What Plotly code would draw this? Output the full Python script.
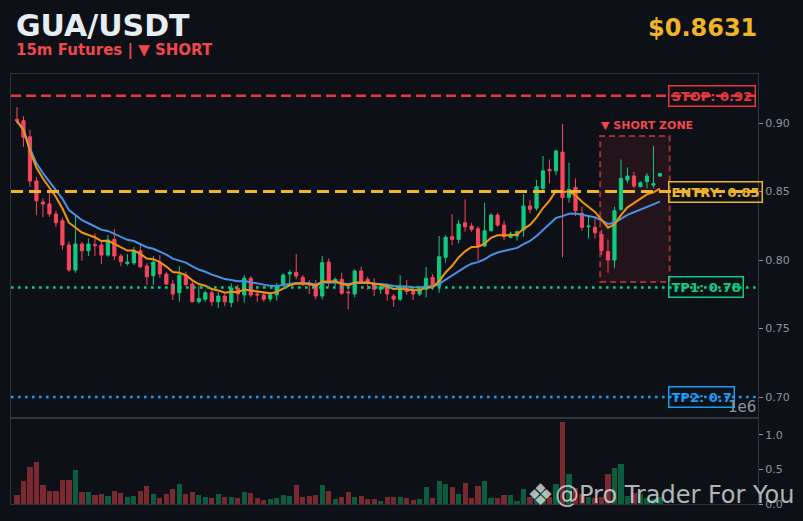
import pandas as pd
import plotly.graph_objects as go
from plotly.subplots import make_subplots

# 15m candles
opens = [0.9027, 0.9017, 0.8900, 0.8577, 0.8423, 0.8410, 0.8336, 0.8287, 0.8110, 0.7927,
         0.8117, 0.8068, 0.8112, 0.8110, 0.8036, 0.8151, 0.8029, 0.7975, 0.7978, 0.8068,
         0.7956, 0.7886, 0.7980, 0.7898, 0.7825, 0.7761, 0.7890, 0.7825, 0.7696, 0.7714,
         0.7761, 0.7696, 0.7737, 0.7689, 0.7794, 0.7745, 0.7867, 0.7752, 0.7745, 0.7716,
         0.7745, 0.7825, 0.7898, 0.7910, 0.7874, 0.7830, 0.7805, 0.7737, 0.7985, 0.7834,
         0.7859, 0.7766, 0.7752, 0.7920, 0.7859, 0.7830, 0.7786, 0.7805, 0.7737, 0.7714,
         0.7794, 0.7769, 0.7752, 0.7786, 0.7874, 0.7810, 0.8020, 0.8170, 0.8151, 0.8272,
         0.8248, 0.8229, 0.8102, 0.8214, 0.8328, 0.8255, 0.8166, 0.8175, 0.8219, 0.8394,
         0.8378, 0.8523, 0.8662, 0.8652, 0.8788, 0.8458, 0.8531, 0.8341, 0.8243, 0.8239,
         0.8187, 0.8063, 0.8000, 0.8370, 0.8584, 0.8613, 0.8536, 0.8572, 0.8547, 0.8613]
highs = [0.9117, 0.9050, 0.8950, 0.8606, 0.8450, 0.8490, 0.8360, 0.8310, 0.8135, 0.8328,
         0.8134, 0.8158, 0.8195, 0.8134, 0.8182, 0.8226, 0.8044, 0.8044, 0.8097, 0.8110,
         0.7976, 0.8029, 0.8036, 0.7915, 0.7854, 0.7956, 0.7915, 0.7842, 0.7810, 0.7776,
         0.7781, 0.7766, 0.7752, 0.7830, 0.7818, 0.7890, 0.7883, 0.7786, 0.7761, 0.7769,
         0.7834, 0.7903, 0.7927, 0.8044, 0.7890, 0.7854, 0.7854, 0.8029, 0.8012, 0.7874,
         0.7907, 0.7786, 0.7932, 0.7951, 0.7878, 0.7867, 0.7830, 0.7830, 0.7752, 0.7890,
         0.7854, 0.7805, 0.7805, 0.7949, 0.7898, 0.8175, 0.8182, 0.8336, 0.8292, 0.8443,
         0.8272, 0.8248, 0.8418, 0.8341, 0.8345, 0.8287, 0.8207, 0.8214, 0.8482, 0.8438,
         0.8584, 0.8759, 0.8734, 0.8803, 0.8993, 0.8710, 0.8596, 0.8389, 0.8321, 0.8304,
         0.8219, 0.8150, 0.8390, 0.8734, 0.8676, 0.8645, 0.8575, 0.8635, 0.8832, 0.8635]
lows = [0.8995, 0.8827, 0.8535, 0.8328, 0.8312, 0.8316, 0.8240, 0.8077, 0.7915, 0.7907,
        0.7995, 0.8029, 0.8029, 0.7971, 0.8024, 0.8000, 0.7956, 0.7960, 0.7964, 0.7940,
        0.7818, 0.7818, 0.7870, 0.7818, 0.7708, 0.7696, 0.7806, 0.7689, 0.7684, 0.7696,
        0.7664, 0.7650, 0.7664, 0.7655, 0.7696, 0.7689, 0.7728, 0.7696, 0.7696, 0.7696,
        0.7703, 0.7805, 0.7830, 0.7860, 0.7810, 0.7752, 0.7713, 0.7713, 0.7805, 0.7810,
        0.7745, 0.7640, 0.7728, 0.7830, 0.7781, 0.7737, 0.7752, 0.7703, 0.7660, 0.7700,
        0.7745, 0.7708, 0.7737, 0.7728, 0.7781, 0.7761, 0.7980, 0.8109, 0.8122, 0.8207,
        0.8207, 0.7995, 0.8097, 0.8207, 0.8243, 0.8146, 0.8158, 0.8141, 0.8170, 0.8341,
        0.8360, 0.8506, 0.8560, 0.8620, 0.8020, 0.8418, 0.8321, 0.8214, 0.8158, 0.8158,
        0.8036, 0.7907, 0.7940, 0.8360, 0.8560, 0.8523, 0.8530, 0.8523, 0.8523, 0.8606]
closes = [0.9015, 0.8896, 0.8577, 0.8433, 0.8409, 0.8336, 0.8272, 0.8110, 0.7927, 0.8117,
          0.8068, 0.8117, 0.8105, 0.8036, 0.8146, 0.8029, 0.7988, 0.7985, 0.8068, 0.7951,
          0.7878, 0.7985, 0.7898, 0.7825, 0.7752, 0.7890, 0.7822, 0.7696, 0.7718, 0.7761,
          0.7696, 0.7737, 0.7696, 0.7794, 0.7752, 0.7867, 0.7745, 0.7745, 0.7714, 0.7746,
          0.7810, 0.7890, 0.7910, 0.7883, 0.7825, 0.7818, 0.7737, 0.7980, 0.7834, 0.7859,
          0.7758, 0.7761, 0.7920, 0.7842, 0.7830, 0.7786, 0.7805, 0.7752, 0.7714, 0.7805,
          0.7769, 0.7752, 0.7786, 0.7867, 0.7810, 0.8024, 0.8166, 0.8151, 0.8263, 0.8243,
          0.8224, 0.8102, 0.8214, 0.8328, 0.8255, 0.8170, 0.8190, 0.8207, 0.8394, 0.8370,
          0.8535, 0.8652, 0.8652, 0.8796, 0.8455, 0.8516, 0.8360, 0.8239, 0.8247, 0.8199,
          0.8068, 0.8000, 0.8360, 0.8596, 0.8613, 0.8540, 0.8564, 0.8613, 0.8557, 0.8631]
volumes = [130e3, 330e3, 540e3, 610e3, 280e3, 190e3, 190e3, 350e3, 350e3, 490e3,
           170e3, 170e3, 130e3, 145e3, 116e3, 190e3, 160e3, 100e3, 116e3, 190e3,
           260e3, 145e3, 87e3, 145e3, 217e3, 290e3, 145e3, 170e3, 130e3, 100e3,
           87e3, 145e3, 100e3, 100e3, 87e3, 170e3, 160e3, 87e3, 58e3, 72e3,
           87e3, 130e3, 116e3, 280e3, 100e3, 116e3, 130e3, 280e3, 190e3, 72e3,
           100e3, 170e3, 100e3, 116e3, 72e3, 72e3, 43e3, 100e3, 100e3, 100e3,
           87e3, 58e3, 72e3, 246e3, 87e3, 330e3, 290e3, 246e3, 145e3, 300e3,
           87e3, 260e3, 330e3, 87e3, 87e3, 130e3, 130e3, 43e3, 217e3, 100e3,
           150e3, 200e3, 100e3, 290e3, 1190e3, 430e3, 230e3, 145e3, 100e3, 87e3,
           100e3, 430e3, 520e3, 580e3, 116e3, 160e3, 145e3, 87e3, 72e3, 100e3]

# trade levels
levels = [("STOP", 0.92), ("ENTRY", 0.85), ("TP1", 0.78), ("TP2", 0.70)]
price_ticks = [0.70, 0.75, 0.80, 0.85, 0.90]
volume_ticks = [0, 0.5e6, 1.0e6]
volume_tick_text = ["0.0", "0.5", "1.0"]

BG = "#0d1117"
EDGE = "#30363d"
MUTED = "#8b949e"
UP = "#0ecb81"
DOWN = "#f6465d"
level_style = {
  "STOP": dict(color="#e8383d", dash="10px,5px", width=2.5),
  "ENTRY": dict(color="#f0b429", dash="12px,6px", width=3),
  "TP1": dict(color="#0ecb81", dash="2.6px,4.4px", width=2.6),
  "TP2": dict(color="#1a9bf0", dash="2.6px,4.4px", width=2.6),
}

idx = list(range(len(closes)))
close_s = pd.Series(closes)
ema_fast = close_s.ewm(span=9).mean()
ema_slow = close_s.ewm(span=21).mean()
vol_colors = ["#0b5d3f" if c >= o else "#7a2930" for o, c in zip(opens, closes)]

fig = make_subplots(rows=2, cols=1, shared_xaxes=True, row_heights=[0.8, 0.2], vertical_spacing=0)

# short zone box sits behind the candles
fig.add_shape(type="rect", x0=89.8, x1=100.5, y0=0.784, y1=0.8905,
              line=dict(color="rgba(200,60,60,0.75)", width=2, dash="6px,4px"),
              fillcolor="rgba(110,30,40,0.22)", layer="below", row=1, col=1)

fig.add_trace(go.Candlestick(
    x=idx, open=opens, high=highs, low=lows, close=closes,
    increasing_line_color=UP, increasing_fillcolor=UP,
    decreasing_line_color=DOWN, decreasing_fillcolor=DOWN,
    increasing_line_width=1, decreasing_line_width=1,
    whiskerwidth=0, showlegend=False, name="GUA/USDT"), row=1, col=1)
fig.add_trace(go.Scatter(x=idx, y=ema_slow, mode="lines", line=dict(color="#4a90e2", width=2),
                         showlegend=False, hoverinfo="skip"), row=1, col=1)
fig.add_trace(go.Scatter(x=idx, y=ema_fast, mode="lines", line=dict(color="#f39212", width=2),
                         showlegend=False, hoverinfo="skip"), row=1, col=1)
fig.add_trace(go.Bar(x=idx, y=volumes, marker=dict(color=vol_colors, line_width=0), width=0.8,
                     showlegend=False), row=2, col=1)

for name, val in levels:
  st = level_style[name]
  fig.add_hline(y=val, line=dict(color=st["color"], dash=st["dash"], width=st["width"]), row=1, col=1)
  fig.add_annotation(xref="paper", yref="y", x=0.8795, y=val, xanchor="left", yanchor="middle",
                     text="<b>%s: %s</b>" % (name, val), showarrow=False,
                     font=dict(family="DejaVu Sans", size=13, color=st["color"]),
                     bordercolor=st["color"], borderwidth=1.5, borderpad=2, bgcolor="rgba(0,0,0,0)")

fig.add_annotation(x=89.6, y=0.8985, xref="x", yref="y", xanchor="left", yanchor="middle",
                   text="<b>▼ SHORT ZONE</b>", showarrow=False,
                   font=dict(family="DejaVu Sans", size=11, color="#f0474d"))

# header
fig.add_annotation(xref="paper", yref="paper", x=0.004, y=1.114, xanchor="left", yanchor="middle",
                   text="<b>GUA/USDT</b>", showarrow=False, height=30,
                   font=dict(family="DejaVu Sans", size=30, color="#e6edf3"))
fig.add_annotation(xref="paper", yref="paper", x=0.004, y=1.056, xanchor="left", yanchor="middle",
                   text="<b>15m Futures | ▼ SHORT</b>", showarrow=False, height=18,
                   font=dict(family="DejaVu Sans", size=15, color="#f0474d"))
fig.add_annotation(xref="paper", yref="paper", x=1.002, y=1.108, xanchor="right", yanchor="middle",
                   text="<b>$%.4f</b>" % closes[-1], showarrow=False,
                   font=dict(family="DejaVu Sans", size=24, color="#f0b429"))

# volume offset text + watermark
fig.add_annotation(xref="paper", yref="paper", x=1.0, y=0.225, xanchor="right", yanchor="middle",
                   text="1e6", showarrow=False, font=dict(family="DejaVu Sans", size=15, color=MUTED))
fig.add_annotation(xref="paper", yref="paper", x=0.7085, y=0.021, xanchor="center", yanchor="middle",
                   text="❖", showarrow=False, font=dict(family="DejaVu Sans", size=30, color="rgba(225,225,225,0.8)"))
fig.add_annotation(xref="paper", yref="paper", x=1.051, y=0.021, xanchor="right", yanchor="middle",
                   text="@Pro Trader For You", showarrow=False,
                   font=dict(family="DejaVu Sans", size=24, color="rgba(225,225,225,0.78)"))

axis_common = dict(showgrid=False, zeroline=False, showline=True, linecolor=EDGE, linewidth=1, mirror=True)
fig.update_xaxes(range=[-0.92, 114.1], showticklabels=False, ticks="", **axis_common)
fig.update_xaxes(rangeslider_visible=False, row=1, col=1)
fig.update_yaxes(side="right", ticks="outside", ticklen=4, tickcolor=MUTED,
                 tickfont=dict(family="DejaVu Sans", size=11, color=MUTED), **axis_common)
fig.update_yaxes(range=[0.6847, 0.9358], tickvals=price_ticks, tickformat=".2f", row=1, col=1)
fig.update_yaxes(range=[0, 1.246e6], tickvals=volume_ticks, ticktext=volume_tick_text, row=2, col=1)

fig.update_layout(
    width=803, height=521,
    margin=dict(l=11, r=45, t=74, b=17),
    paper_bgcolor=BG, plot_bgcolor=BG,
    font=dict(family="DejaVu Sans", color=MUTED),
    bargap=0, showlegend=False,
)

# page body has a default 8px margin; drop it so the figure fills the window
fig.write_html("out.html", config={"displayModeBar": False},
               post_script="document.body.style.margin='0';document.body.style.background='%s';" % BG)
